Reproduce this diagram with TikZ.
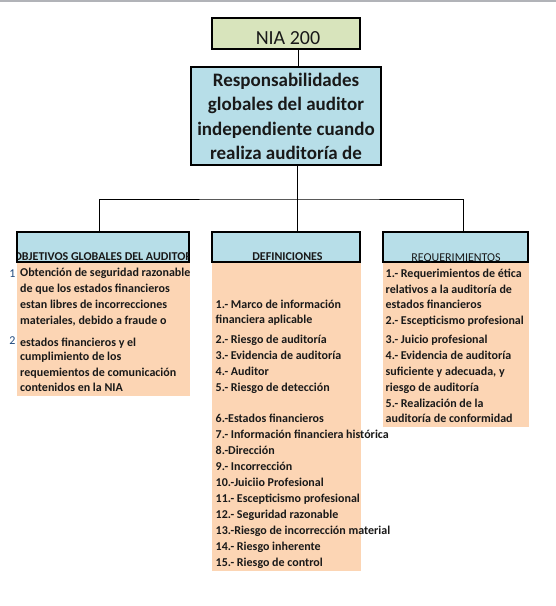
\documentclass[tikz,border=0pt]{standalone}
\usepackage{fontspec}
\setmainfont{Carlito}
\definecolor{niagreen}{HTML}{D8E4BC}
\definecolor{hdrblue}{HTML}{B7DEE8}
\definecolor{peach}{HTML}{FCD5B4}
\definecolor{numblue}{HTML}{1F497D}
\definecolor{topgray}{HTML}{B1B3B8}
\newcommand\bl[3]{\node[btxt] (#1) at (#2) {#3};}
\begin{document}
\begin{tikzpicture}[x=1pt,y=-1pt,
  box/.style={draw=black, line width=2pt, inner sep=0pt, anchor=center},
  bodyfill/.style={fill=peach, draw=none, inner sep=0pt, outer sep=0pt, anchor=center},
  btxt/.style={font=\fontsize{12}{14}\selectfont\bfseries, anchor=base west, inner sep=0pt, text=black!90},
  htxt/.style={font=\fontsize{12}{14}\selectfont, anchor=base, inner sep=0pt, text=black!90},
  ttxt/.style={font=\fontsize{19}{23}\selectfont\bfseries, anchor=base, inner sep=0pt, text=black!90},
  numtxt/.style={font=\fontsize{12}{14}\selectfont, anchor=base, inner sep=0pt, text=numblue},
  conn/.style={draw=black, line width=0.9pt}]
\useasboundingbox (0,0) rectangle (556,606);
\fill[white] (0,0) rectangle (556,606);
\fill[topgray] (0,0) rectangle (556,1.5);

% top boxes
\node[box, fill=niagreen, minimum width=148pt, minimum height=31pt] (nia) at (286,33.5) {};
\node[htxt, font=\fontsize{20}{24}\selectfont] (niatxt) at (288,44.3) {NIA 200};
\node[box, fill=hdrblue, minimum width=190pt, minimum height=98pt] (main) at (286,116) {};
\node[ttxt] (m1) at (286,86) {Responsabilidades};
\node[ttxt] (m2) at (286,110.5) {globales del auditor};
\node[ttxt] (m3) at (286,135) {independiente cuando};
\node[ttxt] (m4) at (286,159.5) {realiza auditoría de};

% bodies
\node[bodyfill, minimum width=173pt, minimum height=133pt] (body1) at (103.5,329.5) {};
\node[bodyfill, minimum width=149pt, minimum height=308pt] (body2) at (286.5,417) {};
\node[bodyfill, minimum width=146pt, minimum height=164pt] (body3) at (456,345) {};

% headers
\node[box, fill=hdrblue, minimum width=172pt, minimum height=30pt] (hdr1) at (103,247) {};
\node[box, fill=hdrblue, minimum width=148pt, minimum height=30pt] (hdr2) at (286,247) {};
\node[box, fill=hdrblue, minimum width=145pt, minimum height=30pt] (hdr3) at (455.5,247) {};
\begin{scope}
\clip (18,233) rectangle (188,261);
\node[htxt, font=\fontsize{12}{14}\selectfont\bfseries] (h1) at (103,260.8) {OBJETIVOS GLOBALES DEL AUDITOR};
\end{scope}
\node[htxt, font=\fontsize{12}{14}\selectfont\bfseries] (h2) at (287.5,260.8) {DEFINICIONES};
\node[htxt] (h3) at (456,261.3) {REQUERIMIENTOS};

% connectors
\coordinate (j) at (297.5,199);
\draw[conn] ([xshift=12pt]nia.south) -- ([xshift=12pt]main.north);
\draw[conn] ([xshift=11.5pt]main.south) -- ([xshift=11.5pt]hdr2.north);
\draw[conn] ([xshift=-4pt]hdr1.north) |- (j) -| ([xshift=7.5pt]hdr3.north);

% left body
\node[numtxt] (n1) at (12.3,277.5) {1};
\node[numtxt] (n2) at (12.3,344.3) {2};
\bl{a1}{20,276.7}{Obtención de seguridad razonable}
\bl{a2}{20,292.7}{de que los estados financieros}
\bl{a3}{20,308.3}{estan libres de incorrecciones}
\bl{a4}{20,324}{materiales, debido a fraude o}
\bl{a5}{20,346}{estados financieros y el}
\bl{a6}{20,360.7}{cumplimiento de los}
\bl{a7}{20,376}{requemientos de comunicación}
\bl{a8}{20,391.7}{contenidos en la NIA}

% middle body
\bl{b1}{215.5,308.7}{1.- Marco de información}
\bl{b2}{215.5,323.7}{financiera aplicable}
\bl{b3}{215.5,343}{2.- Riesgo de auditoría}
\bl{b4}{215.5,359.7}{3.- Evidencia de auditoría}
\bl{b5}{215.5,375.4}{4.- Auditor}
\bl{b6}{215.5,391.4}{5.- Riesgo de detección}
\bl{b7}{215.5,422.7}{6.-Estados financieros}
\bl{b8}{215.5,438.7}{7.- Información financiera histórica}
\bl{b9}{215.5,454.7}{8.-Dirección}
\bl{b10}{215.5,470.4}{9.- Incorrección}
\bl{b11}{215.5,486.4}{10.-Juiciio Profesional}
\bl{b12}{215.5,502.7}{11.- Escepticismo profesional}
\bl{b13}{215.5,518.7}{12.- Seguridad razonable}
\bl{b14}{215.5,534.7}{13.-Riesgo de incorrección material}
\bl{b15}{215.5,550.4}{14.- Riesgo inherente}
\bl{b16}{215.5,566.4}{15.- Riesgo de control}

% right body
\bl{c1}{385.5,277}{1.- Requerimientos de ética}
\bl{c2}{385.5,293}{relativos a la auditoría de}
\bl{c3}{385.5,308.7}{estados financieros}
\bl{c4}{385.5,324.7}{2.- Escepticismo profesional}
\bl{c5}{385.5,343.7}{3.- Juicio profesional}
\bl{c6}{385.5,359.7}{4.- Evidencia de auditoría}
\bl{c7}{385.5,375.4}{suficiente y adecuada, y}
\bl{c8}{385.5,391.4}{riesgo de auditoría}
\bl{c9}{385.5,407}{5.- Realización de la}
\bl{c10}{385.5,422.7}{auditoría de conformidad}
\end{tikzpicture}
\end{document}
